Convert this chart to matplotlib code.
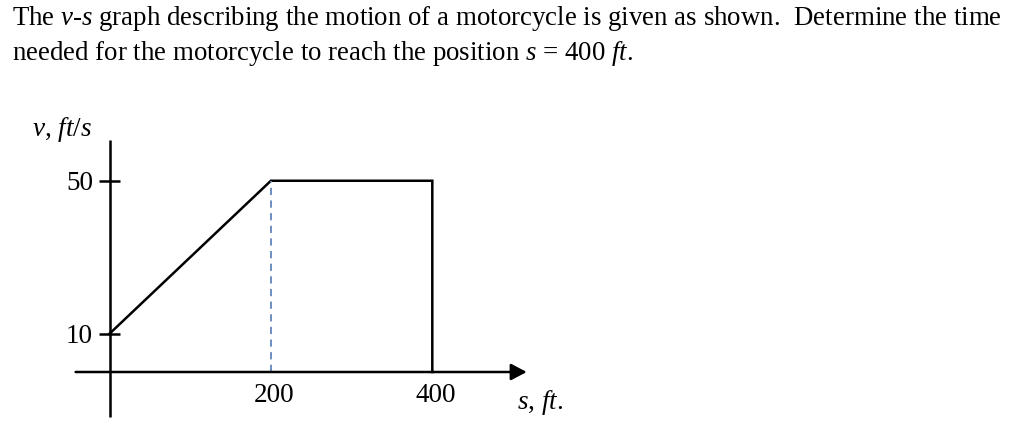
"""
plot.py
Redraw the v-s graph of a motorcycle (textbook problem figure).
"""

import matplotlib
matplotlib.use("Agg")
import matplotlib.pyplot as plt

# Data
s_path = [0, 200, 400, 400]        # ft
v_path = [10, 50, 50, 0]           # ft/s
s_dashed = [200, 200]
v_dashed = [0, 50]
v_ticks = [10, 50]
s_ticks = [200, 400]

title_lines = [
    "The $v$-$s$ graph describing the motion of a motorcycle is given as shown.  Determine the time",
    "needed for the motorcycle to reach the position $s$ = 400 $ft$.",
]

W, H = 1024, 447
# pixel mapping: x_px = X0 + KX * s, y_px(from top) = Y0 - KY * v
X0, KX = 109.5, 0.807
Y0, KY = 372.0, 3.825


def setup_fonts():
    """Times-like serif everywhere, including mathtext italics."""
    plt.rcParams["font.family"] = ["Liberation Serif", "DejaVu Serif"]
    plt.rcParams["mathtext.fontset"] = "custom"
    plt.rcParams["mathtext.rm"] = "Liberation Serif"
    plt.rcParams["mathtext.it"] = "Liberation Serif:italic"


def make_axes(fig):
    """Full-figure axes whose data limits line up with the picture pixels."""
    ax = fig.add_axes([0, 0, 1, 1])
    ax.set_xlim(-X0 / KX, (W - X0) / KX)
    ax.set_ylim((Y0 - H) / KY, Y0 / KY)
    ax.axis("off")
    return ax


def draw_graph(ax):
    lw = 1.8
    fs = 19.5

    # axes: x with arrow, y plain
    ax.annotate("", xy=(517, 0), xytext=(-42, 0),
                arrowprops=dict(arrowstyle="-|>,head_length=0.95,head_width=0.5",
                                mutation_scale=10, lw=lw, color="black",
                                shrinkA=0, shrinkB=0))
    ax.plot([0, 0], [-11.8, 60.6], color="black", lw=lw, solid_capstyle="butt")

    # tick marks and labels on v
    for v in v_ticks:
        ax.plot([-13, 12.5], [v, v], color="black", lw=lw, solid_capstyle="butt")
        ax.text(-20.5, v, str(v), ha="right", va="center_baseline", fontsize=fs)

    # labels on s
    for s in s_ticks:
        ax.text(s + 4, -5.4, str(s), ha="center", va="center_baseline", fontsize=fs)

    # the v-s path
    ax.plot(s_path, v_path, color="black", lw=lw, solid_joinstyle="miter")

    # dashed guide at s = 200
    ax.plot(s_dashed, v_dashed, color="#6286bd", lw=1.3, linestyle=(0, (4, 3)))

    # axis names
    ax.text(-21.5, 64.4, "$v$, $ft/s$", ha="right", va="center_baseline", fontsize=fs)
    ax.text(505, -6.8, "$s$, $ft.$", ha="left", va="center_baseline", fontsize=fs)


def draw_title(fig):
    for i, line in enumerate(title_lines):
        y_px = 25 + 35 * i
        fig.text(12 / W, 1 - y_px / H, line, ha="left", va="baseline",
                 fontsize=19.4)


def main():
    setup_fonts()
    fig = plt.figure(figsize=(W / 100, H / 100), dpi=100)
    ax = make_axes(fig)
    draw_graph(ax)
    draw_title(fig)
    fig.savefig("out.png", dpi=100)
    plt.close(fig)


if __name__ == "__main__":
    main()
